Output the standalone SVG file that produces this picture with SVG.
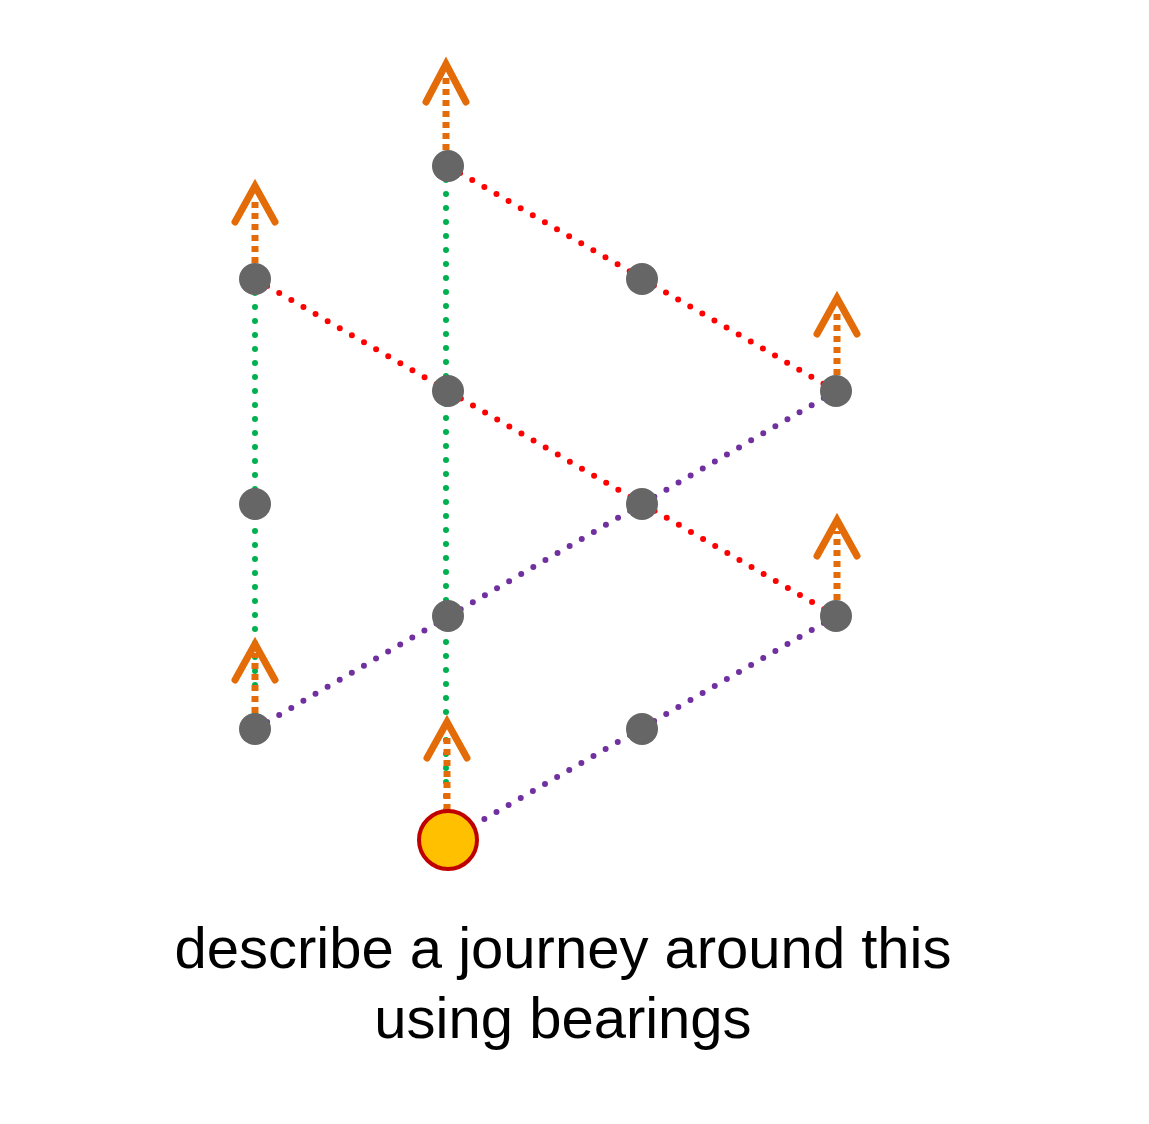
<svg xmlns="http://www.w3.org/2000/svg" width="1149" height="1124" viewBox="0 0 1149 1124">
<style>
.g{stroke:#00b050}.r{stroke:#ff0000}.p{stroke:#7030a0}
.d{stroke-width:6;stroke-linecap:round;stroke-dasharray:0 14;fill:none}
.o{stroke:#e36c09;stroke-width:7;stroke-dasharray:6 5;fill:none}
.c{stroke:#e36c09;stroke-width:7;stroke-linecap:round;stroke-linejoin:miter;fill:none}
.n{fill:#666}
text{font-family:"Liberation Sans",Arial,sans-serif;font-size:58px;fill:#000}
</style>
<rect width="1149" height="1124" fill="#fff"/>
<g id="connectors">
<line class="d g" x1="255" y1="279" x2="255" y2="729"/>
<line class="d g" x1="446" y1="166" x2="446" y2="840"/>
<line class="d r" x1="448" y1="166" x2="836" y2="391"/>
<line class="d r" x1="255" y1="279" x2="836" y2="616"/>
<line class="d p" x1="255" y1="729" x2="836" y2="391"/>
<line class="d p" x1="448" y1="840" x2="836" y2="616"/>
<g id="north-arrows">
<line class="o" x1="446" y1="150" x2="446" y2="74"/><polyline class="c" points="426,102 446,64 466,102"/>
<line class="o" x1="255" y1="263" x2="255" y2="197"/><polyline class="c" points="235,222 255,186 275,222"/>
<line class="o" x1="837" y1="375" x2="837" y2="309"/><polyline class="c" points="817,334 837,298 857,334"/>
<line class="o" x1="837" y1="600" x2="837" y2="531"/><polyline class="c" points="817,556 837,520 857,556"/>
<line class="o" x1="255" y1="713" x2="255" y2="653"/><polyline class="c" points="235,680 255,644 275,680"/>
<line class="o" x1="447" y1="810" x2="447" y2="733"/><polyline class="c" points="427,758 447,722 467,758"/>
</g>
</g>
<g id="n1"><circle class="n" cx="448" cy="166" r="16"/></g>
<g id="n2"><circle class="n" cx="255" cy="279" r="16"/></g>
<g id="n3"><circle class="n" cx="642" cy="279" r="16"/></g>
<g id="n4"><circle class="n" cx="448" cy="391" r="16"/></g>
<g id="n5"><circle class="n" cx="836" cy="391" r="16"/></g>
<g id="n6"><circle class="n" cx="255" cy="504" r="16"/></g>
<g id="n7"><circle class="n" cx="642" cy="504" r="16"/></g>
<g id="n8"><circle class="n" cx="448" cy="616" r="16"/></g>
<g id="n9"><circle class="n" cx="836" cy="616" r="16"/></g>
<g id="n10"><circle class="n" cx="255" cy="729" r="16"/></g>
<g id="n11"><circle class="n" cx="642" cy="729" r="16"/></g>
<g id="start"><circle cx="448" cy="840" r="29" fill="#ffc000" stroke="#c00000" stroke-width="4"/></g>
<g id="caption">
<text x="563" y="968" text-anchor="middle">describe a journey around this</text>
<text x="563" y="1038" text-anchor="middle">using bearings</text>
</g>
</svg>
